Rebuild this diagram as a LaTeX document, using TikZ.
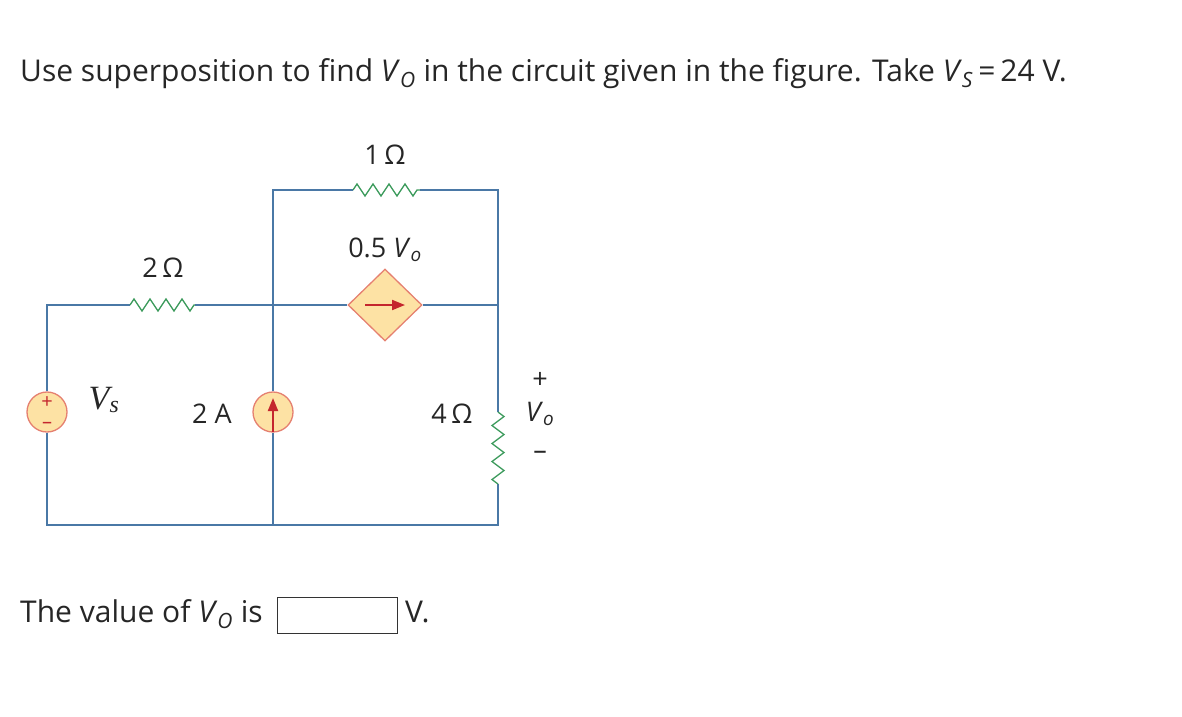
\documentclass[tikz,border=0pt]{standalone}
\usepackage{fontspec}
\setmainfont{Open Sans}
\newfontfamily\serifit{Liberation Serif}
\usetikzlibrary{shapes.geometric,arrows.meta,decorations.pathmorphing}
\definecolor{wire}{HTML}{4A78A6}
\definecolor{resc}{HTML}{3C9A5C}
\definecolor{srcf}{HTML}{FDE2A4}
\definecolor{srcd}{HTML}{E58070}
\definecolor{arr}{HTML}{C4262E}
\newcommand{\VO}[1]{\textit{V}\textsubscript{\textit{#1}}}
\begin{document}
\begin{tikzpicture}[x=1pt,y=-1pt,
  w/.style={draw=wire,line width=1.5pt},
  res/.style={draw=resc,line width=1.3pt,decorate,decoration={zigzag,segment length=16pt,amplitude=6pt}},
  src/.style={circle,draw=srcd,fill=srcf,line width=1.3pt,minimum size=40pt,inner sep=0pt},
  dsrc/.style={diamond,draw=srcd,fill=srcf,line width=1.3pt,minimum width=74pt,minimum height=72pt,inner sep=0pt},
  lbl/.style={font=\fontsize{27}{30}\selectfont,text=black!85},
  txt/.style={font=\fontsize{30}{36}\selectfont,text=black!85,anchor=base west,inner sep=0pt}]
\useasboundingbox (0,0) rectangle (1182,716);
\node[txt] (title) at (20,81) {Use superposition to find \VO{O} in the circuit given in the figure. Take \VO{S}\,=\,24 V.};
\coordinate (TL) at (47,305); \coordinate (BL) at (47,525);
\coordinate (TM) at (273,190); \coordinate (MM) at (273,305); \coordinate (BM) at (273,525);
\coordinate (TR) at (498,190); \coordinate (MR) at (498,305); \coordinate (BR) at (498,525);
\coordinate (r2a) at (130,305); \coordinate (r2b) at (195,305);
\coordinate (r1a) at (353,190); \coordinate (r1b) at (420,190);
\coordinate (r4a) at (498,412); \coordinate (r4b) at (498,484);
\node[src] (vs) at (47,412) {};
\node[src] (cs) at (273,412) {};
\node[dsrc] (ds) at (385,305) {};
\draw[w] (vs.north) -- (TL) -- (r2a);
\draw[w] (r2b) -- (MM) -- (ds.west);
\draw[w] (ds.east) -- (MR);
\draw[w] (vs.south) -- (BL) -- (BR) -- (r4b);
\draw[w] (cs.north) -- (TM) -- (r1a);
\draw[w] (r1b) -- (TR) -- (r4a);
\draw[w] (cs.south) -- (BM);
\draw[res] (r2a) -- (r2b);
\draw[res] (r1a) -- (r1b);
\draw[res,decoration={zigzag,segment length=18pt,amplitude=6pt}] (r4a) -- (r4b);
\draw[arr,line width=2pt,-{Triangle[length=13pt,width=10pt]}] ([yshift=-20pt]cs.center) -- ([yshift=14pt]cs.center);
\draw[arr,line width=2pt,-{Triangle[length=13pt,width=10pt]}] ([xshift=-20pt]ds.center) -- ([xshift=20pt]ds.center);
\node[text=arr,font=\fontsize{20}{20}\selectfont,inner sep=0pt] (vsp) at (47,403) {+};
\node[text=arr,font=\fontsize{20}{20}\selectfont,inner sep=0pt] (vsm) at (47,425) {\textendash};
\node[lbl] (l1) at (385,155) {1\,Ω};
\node[lbl] (l05) at (385,250) {0.5 \VO{o}};
\node[lbl] (l2) at (163,268) {2\,Ω};
\node[lbl,font=\fontsize{34}{34}\serifit\itshape] (lvs) at (104,400) {V\textsubscript{s}};
\node[lbl] (l2a) at (212,414) {2 A};
\node[lbl] (l4) at (452,414) {4\,Ω};
\node[lbl] (lp) at (540,380) {+};
\node[lbl] (lvo) at (540,414) {\VO{o}};
\node[lbl] (lm) at (540,455) {\textendash};
\node[txt] (ans) at (20,622) {The value of \VO{O} is};
\node[draw=black!80,line width=1pt,minimum width=120pt,minimum height=36pt,inner sep=0pt] (box) at (337,615) {};
\node[txt] (unit) at (405,622) {V.};
\end{tikzpicture}
\end{document}
